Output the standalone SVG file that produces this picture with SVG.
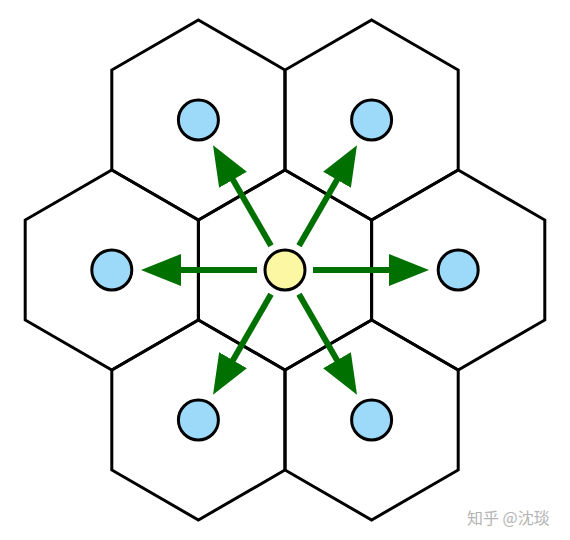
<svg xmlns="http://www.w3.org/2000/svg" width="570" height="540" viewBox="0 0 570 540">
<style>
.hex{fill:none;stroke:#000;stroke-width:3;stroke-linejoin:miter}
.cell{fill:#9dd9f8;stroke:#000;stroke-width:3}
.src{fill:#fcf7a3;stroke:#000;stroke-width:3}
.arr{stroke:#007000;stroke-width:6;fill:none;marker-end:url(#ah)}
.wm{font-family:"Noto Sans CJK SC","Noto Sans",sans-serif;font-size:16px;fill:#b4b4b4}
</style>
<defs>
<polygon id="hx" points="0,-100 86.6,-50 86.6,50 0,100 -86.6,50 -86.6,-50"/>
<marker id="ah" markerUnits="userSpaceOnUse" viewBox="0 0 40 32" refX="1" refY="16" markerWidth="40" markerHeight="32" orient="auto">
<polygon points="0,0 40,16 0,32" fill="#007000"/>
</marker>
</defs>
<rect width="570" height="540" fill="#fff"/>
<g id="hex-center"><use href="#hx" class="hex" x="285" y="270"/></g>
<g id="hex-top-left"><use href="#hx" class="hex" x="198.4" y="120"/><circle class="cell" cx="198.4" cy="120" r="20"/></g>
<g id="hex-top-right"><use href="#hx" class="hex" x="371.6" y="120"/><circle class="cell" cx="371.6" cy="120" r="20"/></g>
<g id="hex-left"><use href="#hx" class="hex" x="111.8" y="270"/><circle class="cell" cx="111.8" cy="270" r="20"/></g>
<g id="hex-right"><use href="#hx" class="hex" x="458.2" y="270"/><circle class="cell" cx="458.2" cy="270" r="20"/></g>
<g id="hex-bottom-left"><use href="#hx" class="hex" x="198.4" y="420"/><circle class="cell" cx="198.4" cy="420" r="20"/></g>
<g id="hex-bottom-right"><use href="#hx" class="hex" x="371.6" y="420"/><circle class="cell" cx="371.6" cy="420" r="20"/></g>
<g id="connectors">
<line class="arr" x1="313" y1="270" x2="390" y2="270"/>
<line class="arr" x1="299" y1="245.75" x2="337.5" y2="179"/>
<line class="arr" x1="271" y1="245.75" x2="232.5" y2="179"/>
<line class="arr" x1="257" y1="270" x2="180" y2="270"/>
<line class="arr" x1="271" y1="294.25" x2="232.5" y2="361"/>
<line class="arr" x1="299" y1="294.25" x2="337.5" y2="361"/>
</g>
<g id="source"><circle class="src" cx="285" cy="270" r="20"/></g>
<text class="wm" x="467" y="524">知乎 @沈琰</text>
</svg>
